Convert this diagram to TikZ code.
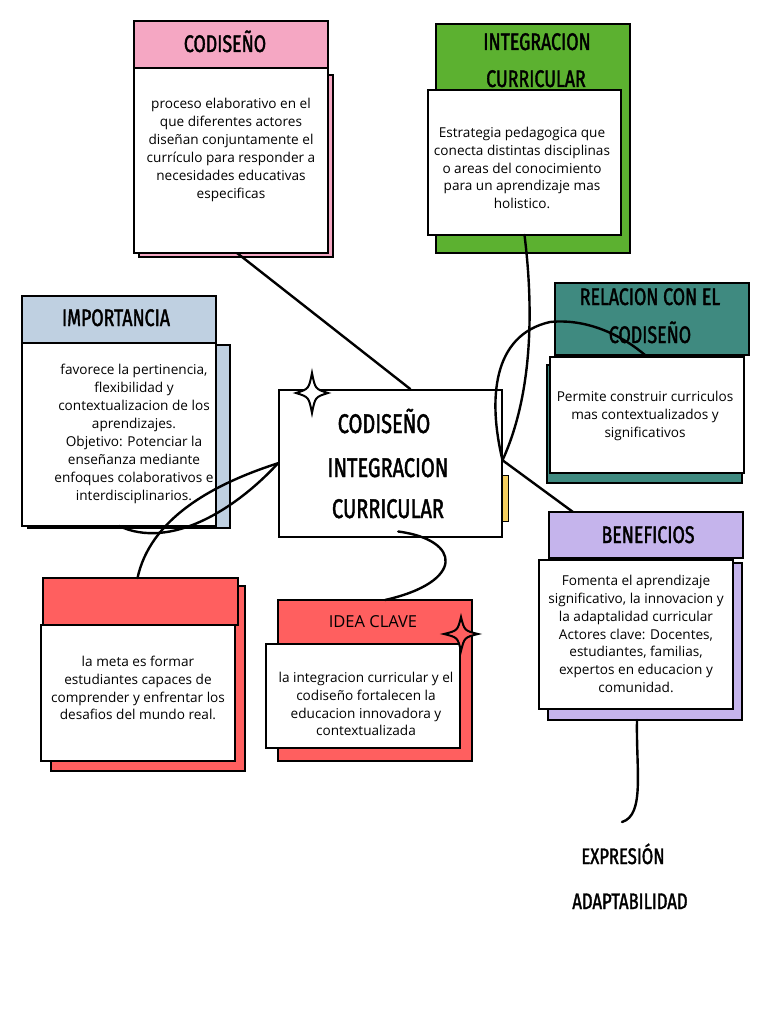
\documentclass[tikz,border=0pt]{standalone}
\usepackage{fontspec}
\setmainfont{Open Sans}
\newfontfamily\hdfont[FakeStretch=0.74,FakeBold=1.6]{Fira Sans}
\definecolor{cpink}{HTML}{F5A7C3}
\definecolor{cgreen}{HTML}{5CB130}
\definecolor{cblue}{HTML}{BFD0E1}
\definecolor{cteal}{HTML}{3F8A80}
\definecolor{cpurple}{HTML}{C5B4EC}
\definecolor{cred}{HTML}{FF5F5F}
\definecolor{cyellow}{HTML}{F5CF5F}
\newcommand\bodyfont{\fontsize{13.6}{17.9}\selectfont}
\newcommand\hdA{\hdfont\fontsize{24}{24}\selectfont}
\newcommand\hdB{\hdfont\fontsize{27}{27}\selectfont}
\newcommand\hdC{\hdfont\fontsize{22.5}{22.5}\selectfont}
\newcommand\boxnode[6]{%
  \pgfmathsetmacro\bw{#5-#3}\pgfmathsetmacro\bh{#6-#4}%
  \node[bxs, fill=#2, minimum width=\bw pt, minimum height=\bh pt] (#1) at (#3,#4) {};}
\newcommand\sparkle[5]{%
  \draw[line width=2pt, fill=#5, line join=miter]
    (#1,#2-#4) .. controls (#1+0.2*#3,#2-0.2*#4) .. (#1+#3,#2)
    .. controls (#1+0.2*#3,#2+0.2*#4) .. (#1,#2+#4)
    .. controls (#1-0.2*#3,#2+0.2*#4) .. (#1-#3,#2)
    .. controls (#1-0.2*#3,#2-0.2*#4) .. cycle;}
\begin{document}
\begin{tikzpicture}[x=1pt,y=-1pt,
  bxs/.style={draw=black,line width=2.6pt,inner sep=0pt,outer sep=0pt,anchor=north west},
  con/.style={draw=black,line width=2.4pt,line cap=round},
  bt/.style={align=center,inner sep=0pt,font=\bodyfont},
  ht/.style={inner sep=0pt,anchor=base,font=\hdA},
  hc/.style={inner sep=0pt,anchor=base,font=\hdB},
  hb/.style={inner sep=0pt,anchor=base,font=\hdC}]
\useasboundingbox[fill=white] (0,0) rectangle (768,1024);

% CODISENO
\boxnode{cshadow}{cpink}{139}{75}{333}{257}
\boxnode{chead}{cpink}{134}{21}{328}{68}
\boxnode{cbody}{white}{134}{68}{328}{253}
\node[ht] (chtext) at (225,52) {CODISEÑO};
\node[bt] (cbtext) at (231,150) {proceso elaborativo en el\\que diferentes actores\\diseñan conjuntamente el\\currículo para responder a\\necesidades educativas\\especificas};

% INTEGRACION CURRICULAR
\boxnode{ihead}{cgreen}{436}{24}{630}{253}
\boxnode{ibody}{white}{428}{90}{621}{235}
\node[ht] (ihtext1) at (537,50) {INTEGRACION};
\node[ht] (ihtext2) at (536,87) {CURRICULAR};
\node[bt] (ibtext) at (522,168) {Estrategia pedagogica que\\conecta distintas disciplinas\\o areas del conocimiento\\para un aprendizaje mas\\holistico.};

% IMPORTANCIA
\boxnode{pshadow}{cblue}{28}{345}{230}{528}
\boxnode{phead}{cblue}{22}{296}{216}{343}
\boxnode{pbody}{white}{22}{343}{216}{526}
\node[ht] (phtext) at (116,326) {IMPORTANCIA};
\node[bt] (pbtext) at (134,434) {favorece la pertinencia,\\flexibilidad y\\contextualizacion de los\\aprendizajes.\\Objetivo: Potenciar la\\enseñanza mediante\\enfoques colaborativos e\\interdisciplinarios.};

% RELACION CON EL CODISENO
\boxnode{rshadow}{cteal}{547}{365}{742}{483}
\boxnode{rhead}{cteal}{555}{283}{749}{355}
\boxnode{rbody}{white}{550}{357}{744}{473}
\node[ht] (rhtext1) at (650,305) {RELACION CON EL};
\node[ht] (rhtext2) at (650,343) {CODISEÑO};
\node[bt] (rbtext) at (645,416) {Permite construir curriculos\\mas contextualizados y\\significativos};

% BENEFICIOS
\boxnode{bshadow}{cpurple}{548}{563}{742}{720}
\boxnode{bhead}{cpurple}{549}{512}{743}{558}
\boxnode{bbody}{white}{539}{560}{733}{709}
\node[ht] (bhtext) at (648,543) {BENEFICIOS};
\node[bt] (bbtext) at (636,634) {Fomenta el aprendizaje\\significativo, la innovacion y\\la adaptalidad curricular\\Actores clave: Docentes,\\estudiantes, familias,\\expertos en educacion y\\comunidad.};

% META (red, empty header)
\boxnode{mshadow}{cred}{51}{586}{245}{771}
\boxnode{mhead}{cred}{43}{578}{238}{625}
\boxnode{mbody}{white}{41}{625}{235}{761}
\node[bt] (mbtext) at (138,688) {la meta es formar\\estudiantes capaces de\\comprender y enfrentar los\\desafios del mundo real.};

% IDEA CLAVE
\boxnode{khead}{cred}{278}{600}{472}{761}
\boxnode{kbody}{white}{266}{644}{460}{748}
\node[inner sep=0pt,font=\fontsize{16.5}{16.5}\selectfont] (khtext) at (373,622) {IDEA CLAVE};
\node[bt] (kbtext) at (366,704) {la integracion curricular y el\\codiseño fortalecen la\\educacion innovadora y\\contextualizada};

% CENTER
\node[draw=black,line width=1pt,fill=cyellow,inner sep=0pt,minimum width=6pt,minimum height=46pt,anchor=north west] (ybar) at (502,475) {};
\node[draw=black,line width=1.5pt,fill=white,inner sep=0pt,minimum width=223pt,minimum height=147pt,anchor=north west] (cx) at (278,389) {};
\node[hc] (cxt1) at (384,433) {CODISEÑO};
\node[hc] (cxt2) at (388,477) {INTEGRACION};
\node[hc] (cxt3) at (388,518) {CURRICULAR};

% connectors
\coordinate (hook) at (622,822);
\draw[con] ([xshift=6pt]cbody.south) -- ([xshift=20pt]cx.north);
\draw[con] (ibody.south) .. controls (535,320) and (530,400) .. ([yshift=3pt]cx.east);
\draw[con] ([yshift=3pt]cx.east) .. controls (488,400) and (492,335) .. (550,322)
   .. controls (590,318) and (625,338) .. ([xshift=-7pt]rhead.south);
\draw[con] ([yshift=3pt]cx.east) -- ([xshift=-73pt]bhead.north);
\draw[con] (cx.west) .. controls (210,485) and (150,520) .. ([xshift=-3pt]mhead.north);
\draw[con] (cx.west) .. controls (235,510) and (170,550) .. (pbody.south);
\draw[con] ([xshift=8pt,yshift=6pt]cx.south) .. controls (462,540) and (465,582) .. ([xshift=10pt]khead.north);
\draw[con] ([xshift=-8pt]bshadow.south) .. controls (636,770) and (645,815) .. (hook);

% sparkles
\sparkle{312}{393}{16}{20}{white}
\sparkle{461}{634}{17}{17}{cred}

% bottom words
\node[hb] (ex1) at (623,864) {EXPRESIÓN};
\node[hb] (ex2) at (630,909) {ADAPTABILIDAD};
\end{tikzpicture}
\end{document}
